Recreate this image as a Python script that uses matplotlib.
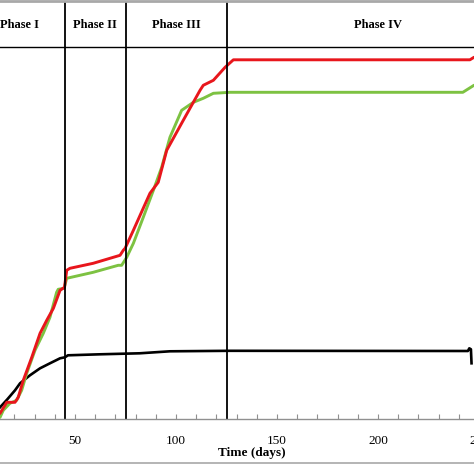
import numpy as np
import matplotlib.pyplot as plt
from matplotlib.lines import Line2D

# curves (x in days, y in plot units)
black_t = [0, 6, 10, 12.9, 16.5, 20.3, 22.8, 27.7, 32.7, 37.6, 42.6, 45.0, 46.5, 62.4,
           82.0, 97.0, 126.7, 244.5, 245.2, 246.0, 246.3]
black_y = [0, 2, 6, 12, 20, 29, 36, 44, 51, 56, 61, 62, 64, 65,
           66, 68, 68.5, 68.3, 71, 70, 56]

red_t = [0, 8, 12.9, 16.2, 20.3, 21.9, 24.4, 28.6, 32.7, 36.0, 39.3, 42.6, 44.8, 45.9,
         47.5, 59.0, 72.3, 73.9, 74.8, 78.9, 87.1, 91.2, 95.4, 103.6, 111.9, 113.5,
         118.5, 124.3, 128.4, 245.5, 247.5, 275]
red_y = [0, 2, 6, 17, 17, 22, 39, 62, 86, 99, 111, 129, 132, 149,
         151, 156, 164, 169, 171, 189, 226, 237, 269, 299, 329, 334,
         339, 352, 359.5, 359.5, 362, 362]

green_t = [0, 8, 12.9, 14.5, 17.8, 21.1, 23.6, 26.1, 30.2, 34.3, 37.6, 40.9, 41.7, 44.6,
           45.9, 59.0, 71.4, 73.1, 75.6, 78.9, 83.8, 88.8, 92.9, 97.0, 102.8, 108.6,
           113.5, 118.5, 126.7, 242.0, 247.5, 275]
green_y = [0, 0, 2, 9, 16, 19, 29, 46, 69, 86, 102, 127, 130, 131,
           141, 147, 154, 154, 162, 176, 202, 229, 252, 282, 309, 317,
           321, 326, 327, 327, 334, 340]

phase_bounds = [45, 75, 125]
phase_names = ["Phase I", "Phase II", "Phase III", "Phase IV"]
phase_mid = [22.5, 60, 100, 200]

plt.rcParams['font.family'] = ['Liberation Serif', 'DejaVu Serif']

fig = plt.figure(figsize=(4.74, 4.74), dpi=100)
# axes is wider than the figure: the reference is a crop of a bigger chart
px0, py0 = -26.0, 419.3
sx = 2.02
xmax = 275
ytop = 418.3
ax = fig.add_axes([px0 / 474, (474 - py0) / 474, xmax * sx / 474, ytop / 474])

ax.plot(black_t, black_y, color='black', lw=1.9, solid_joinstyle='round')
ax.plot(green_t, green_y, color='#7dc242', lw=2.1, solid_joinstyle='round')
ax.plot(red_t, red_y, color='#e8161c', lw=2.1, solid_joinstyle='round')

for b in phase_bounds:
    ax.axvline(b, color='black', lw=1.3)
ax.axhline(372, color='black', lw=1.0)
for name, m in zip(phase_names, phase_mid):
    ax.text(m, 394, name, ha='center', va='center', fontsize=9, fontweight='bold')

ax.set_xlim(0, xmax)
ax.set_ylim(0, ytop)
ax.set_xticks([50, 100, 150, 200, 250])
ax.set_xticks(np.arange(10, xmax, 10), minor=True)
ax.tick_params(axis='x', which='both', direction='in', length=3.5, width=0.8,
               color='#909090', labelsize=9.5, pad=11)
ax.set_yticks([])
ax.set_xlabel('Time (days)', fontsize=9.5, fontweight='bold', labelpad=0)
for s in ['left', 'right']:
    ax.spines[s].set_visible(False)
ax.spines['bottom'].set_color('#909090')
ax.spines['bottom'].set_linewidth(1.0)
ax.spines['top'].set_color('#a8a8a8')
ax.spines['top'].set_linewidth(2.0)

fig.add_artist(Line2D([0, 1], [(474 - 463) / 474] * 2, color='#a8a8a8', lw=1.2,
                      transform=fig.transFigure))

fig.savefig('out.png', dpi=100)
